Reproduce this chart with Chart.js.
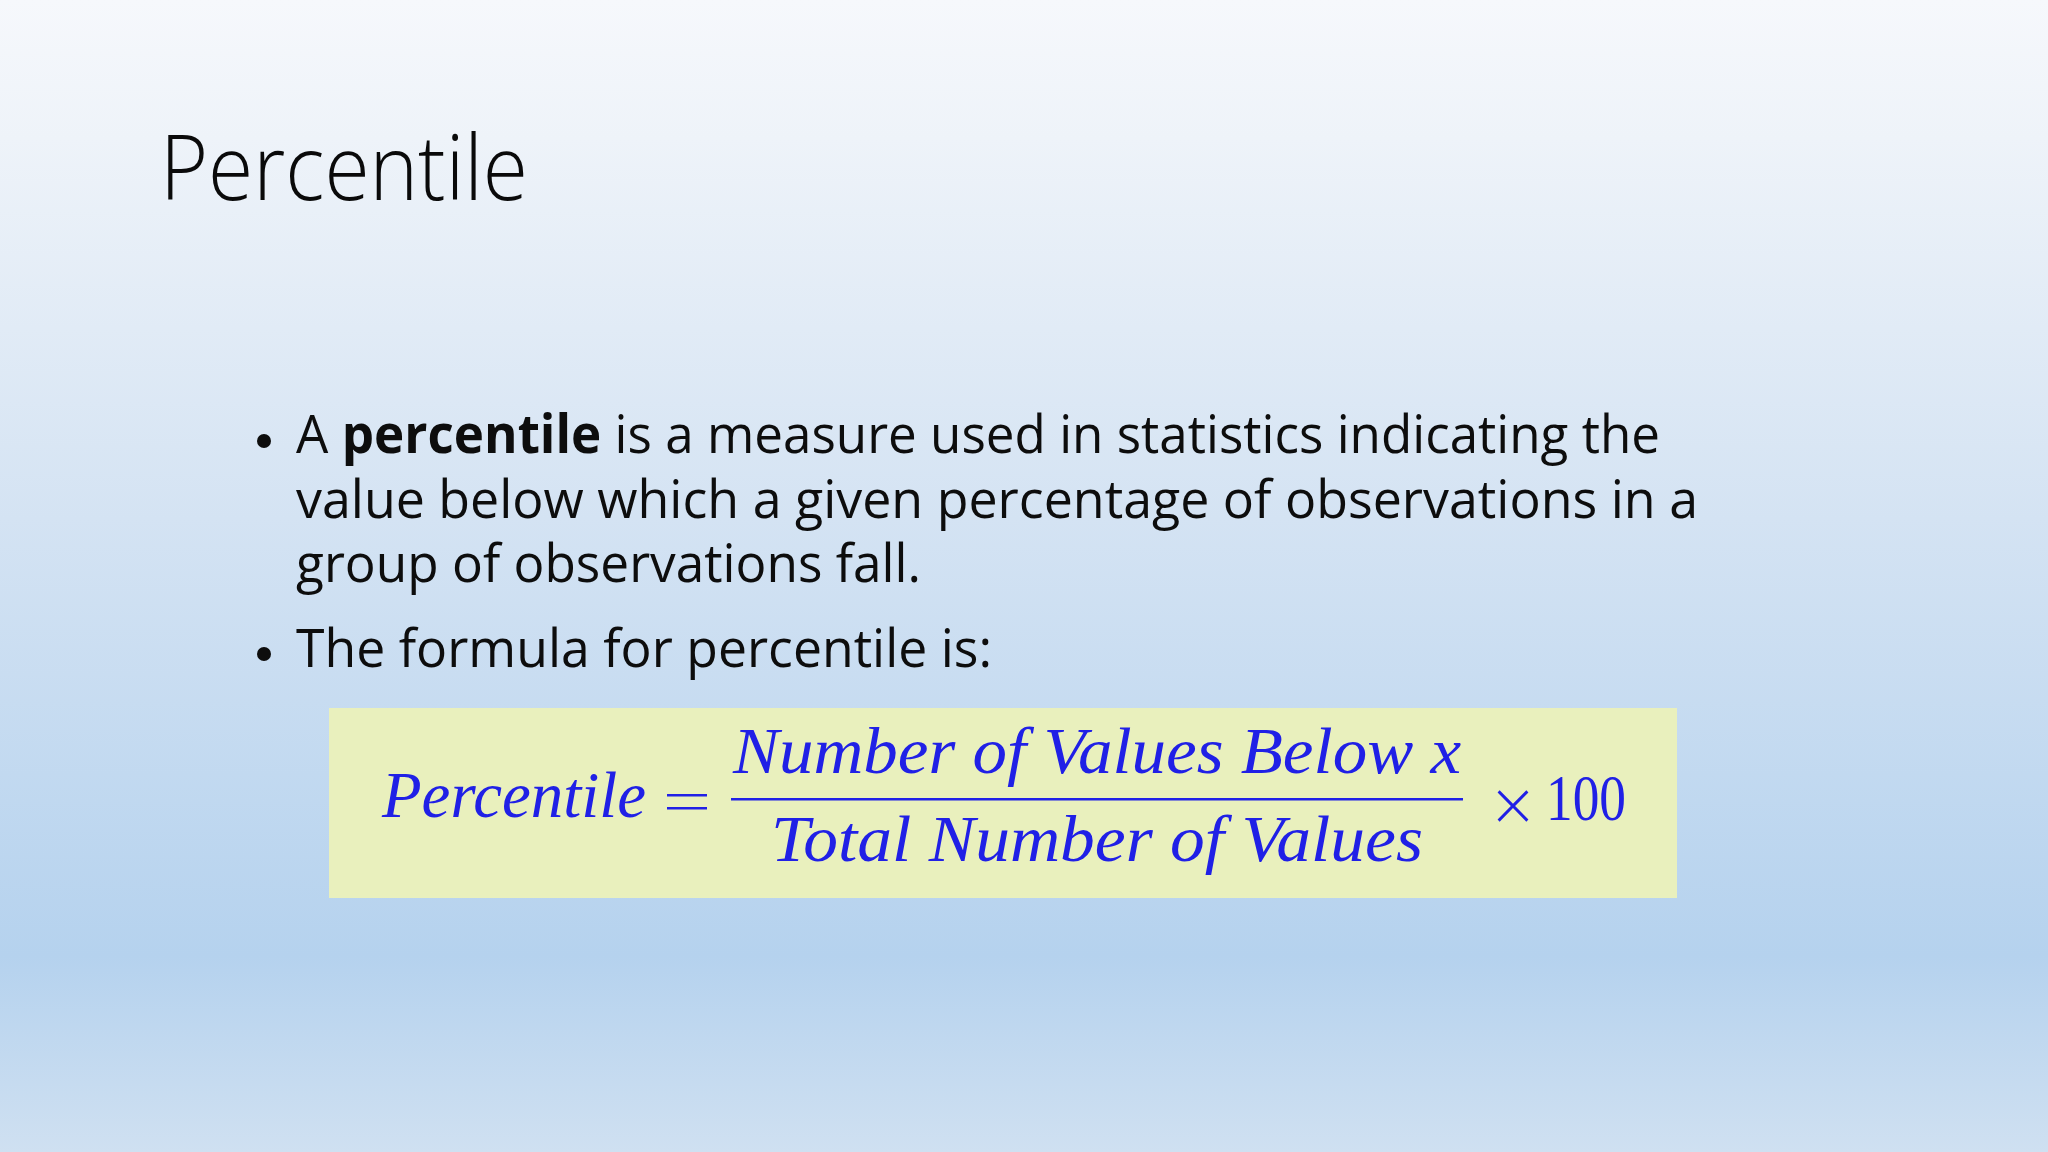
<!DOCTYPE html>
<html>
<head>
<meta charset="utf-8">
<title>Percentile</title>
<script src="https://cdn.jsdelivr.net/npm/chart.js@4/dist/chart.umd.min.js"></script>
<style>
  html, body { margin: 0; padding: 0; background: #e6eef8; overflow: hidden; }
  #slide { display: block; }
</style>
</head>
<body>
<canvas id="slide" width="2048" height="1152"></canvas>
<script>
// slide texts
const titleText = 'Percentile';
const boldTerm = 'percentile';
const bulletOne = [
  'A percentile is a measure used in statistics indicating the',
  'value below which a given percentage of observations in a',
  'group of observations fall.'
];
const bulletTwo = ['The formula for percentile is:'];
const formulaLhs = 'Percentile';
const formulaNumerator = 'Number of Values Below x';
const formulaDenominator = 'Total Number of Values';
const formulaFactor = ['\u00d7', '100'];

// draws a run of text squeezed or stretched to a given width
function fitRuns(ctx, runs, x, y, width) {
  let natural = 0;
  runs.forEach(r => { ctx.font = r.font; natural += ctx.measureText(r.text).width; });
  const k = width / natural;
  ctx.save();
  ctx.translate(x, y);
  ctx.scale(k, 1);
  let cx = 0;
  runs.forEach(r => {
    ctx.font = r.font;
    ctx.fillText(r.text, cx, 0);
    cx += ctx.measureText(r.text).width;
  });
  ctx.restore();
}

function fitText(ctx, text, font, x, y, width) {
  fitRuns(ctx, [{ text, font }], x, y, width);
}

const slidePlugin = {
  id: 'slide',
  beforeDraw(chart) {
    const { ctx, width, height } = chart;
    const g = ctx.createLinearGradient(0, 0, 0, height);
    g.addColorStop(0, '#f6f8fc');
    g.addColorStop(0.12, '#eef3f9');
    g.addColorStop(0.45, '#d4e3f3');
    g.addColorStop(0.83, '#b5d2ee');
    g.addColorStop(1, '#cfe0f1');
    ctx.save();
    ctx.fillStyle = g;
    ctx.fillRect(0, 0, width, height);
    ctx.restore();
  },
  afterDraw(chart) {
    const ctx = chart.ctx;
    ctx.save();
    ctx.textBaseline = 'alphabetic';
    ctx.textAlign = 'left';

    // title
    ctx.fillStyle = '#0a0a0a';
    fitText(ctx, titleText, '300 90px "Open Sans"', 160, 200, 368);

    // bullets
    const body = '400 53px "Open Sans"';
    const bodyBold = '700 53px "Open Sans"';
    ctx.fillStyle = '#0d0d0d';
    const bulletX = 264;
    const textX = 296;
    const rows = [
      { text: bulletOne[0], y: 453, w: 1364, dot: 441, bold: true },
      { text: bulletOne[1], y: 518, w: 1402 },
      { text: bulletOne[2], y: 582, w: 625 },
      { text: bulletTwo[0], y: 667, w: 696, dot: 654 }
    ];
    rows.forEach(r => {
      if (r.dot) {
        ctx.beginPath();
        ctx.arc(bulletX, r.dot, 7, 0, Math.PI * 2);
        ctx.fill();
      }
      const i = r.text.indexOf(boldTerm);
      if (r.bold && i >= 0) {
        fitRuns(ctx, [
          { text: r.text.slice(0, i), font: body },
          { text: boldTerm, font: bodyBold },
          { text: r.text.slice(i + boldTerm.length), font: body }
        ], textX, r.y, r.w);
      } else {
        fitText(ctx, r.text, body, textX, r.y, r.w);
      }
    });

    // formula box
    ctx.fillStyle = '#e9f0bd';
    ctx.fillRect(329, 708, 1348, 190);

    const blue = '#2020e6';
    const ital = 'italic 400 65px "Liberation Serif"';
    const upright = '400 65px "Liberation Serif"';
    ctx.fillStyle = blue;
    fitText(ctx, formulaLhs, ital, 382, 817, 264);
    // equals sign
    ctx.fillRect(667, 794, 40, 2.5);
    ctx.fillRect(667, 807, 40, 2.5);
    fitText(ctx, formulaNumerator, ital, 733, 773, 728);
    ctx.fillRect(731, 798, 732, 2.5);
    fitText(ctx, formulaDenominator, ital, 771, 861, 652);
    fitText(ctx, formulaFactor[0], '300 60px "DejaVu Sans"', 1488, 825, 50);
    fitText(ctx, formulaFactor[1], upright, 1546, 820, 80);
    ctx.restore();
  }
};

new Chart(document.getElementById('slide'), {
  type: 'scatter',
  data: { datasets: [] },
  options: {
    responsive: false,
    animation: false,
    devicePixelRatio: 1,
    layout: { padding: 0 },
    scales: {
      x: { display: false, min: 0, max: 2048 },
      y: { display: false, min: 0, max: 1152 }
    },
    plugins: {
      legend: { display: false },
      tooltip: { enabled: false },
      title: { display: false }
    }
  },
  plugins: [slidePlugin]
});
</script>
</body>
</html>
